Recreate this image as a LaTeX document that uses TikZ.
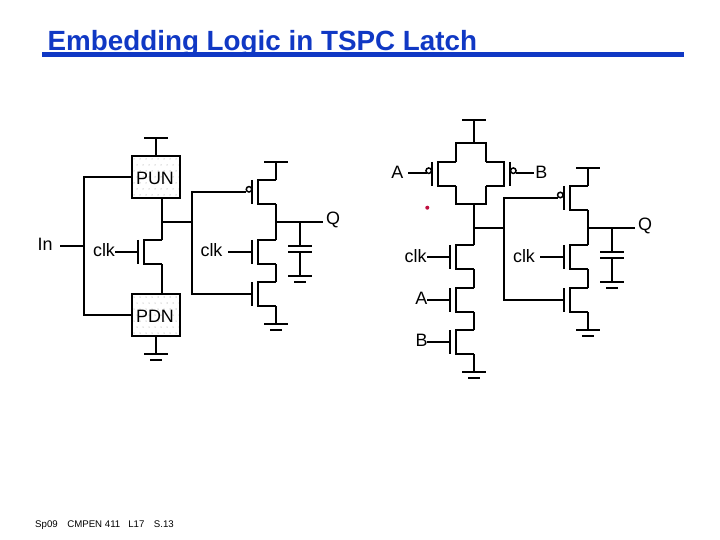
\documentclass[tikz,border=0pt]{standalone}
\usepackage{fontspec}
\setmainfont{Liberation Sans}
\definecolor{titleblue}{HTML}{1038C4}
\definecolor{dotred}{HTML}{C01040}
\tikzset{
  wire/.style={line width=2bp,line cap=butt,line join=miter},
  boxnode/.style={draw=black,line width=2bp,minimum width=48bp,minimum height=42bp,inner sep=0pt,font=\fontsize{18}{18}\selectfont},
  lab/.style={inner sep=0pt,font=\fontsize{18}{18}\selectfont,text=black},
  bubble/.style={circle,draw=black,line width=1.5pt,fill=white,minimum size=5.5pt,inner sep=0pt}
}
% name, channel x, top y, gate x, rail x
\newcommand{\mosdev}[5]{%
  \coordinate (#1-t) at (#5,#3);
  \coordinate (#1-b) at (#5,#3+24);
  \coordinate (#1-g) at (#4,#3+12);
  \draw[wire] (#4,#3) -- (#4,#3+24);
  \draw[wire] (#1-t) -- (#2,#3) -- (#2,#3+24) -- (#1-b);
}
\newcommand{\vddbar}[2]{\draw[wire] (#1-12,#2) -- (#1+12,#2);}
\newcommand{\gndbar}[2]{%
  \draw[wire] (#1-12,#2) -- (#1+12,#2);
  \draw[wire] (#1-6,#2+6) -- (#1+6,#2+6);}
\newcommand{\capdev}[3]{% x, plate y, bottom y
  \draw[wire] (#1-12,#2) -- (#1+12,#2);
  \draw[wire] (#1-12,#2+6) -- (#1+12,#2+6);
  \draw[wire] (#1,#2+6) -- (#1,#3);
  \gndbar{#1}{#3}}
\newcommand{\stipple}[2]{%
  \foreach \r in {0,...,6}{
    \pgfmathtruncatemacro{\odd}{mod(\r,2)}
    \foreach \c in {0,...,7}{
      \fill[black!60] ({#1+2+6*\c+3*\odd},{#2+3+6*\r}) circle (0.5pt);
    }}}
\begin{document}
\begin{tikzpicture}[x=1bp,y=-1bp]
\useasboundingbox (0,0) rectangle (720,540);
% title
\node[anchor=base west,inner sep=0pt,text=titleblue,font=\fontsize{27.9}{28}\selectfont\bfseries] (title) at (47.5,50.7) {Embedding Logic in TSPC Latch};
\fill[titleblue] (42,52) rectangle (684,57);
\node[anchor=base west,inner sep=0pt,font=\fontsize{9.7}{10}\selectfont] (foot) at (35,527.5) {Sp09\hspace{9.6pt}CMPEN 411\hspace{8pt}L17\hspace{9.6pt}S.13};

% ---------- left circuit
\stipple{132}{156}
\stipple{132}{294}
\node[boxnode] (pun) at (156,177) {};
\node[boxnode] (pdn) at (156,315) {};
\node[lab] (puntxt) at (155,178) {PUN};
\node[lab] (pdntxt) at (155,316) {PDN};
\coordinate (lvdd) at (156,138);
\coordinate (lgnd) at (156,354);
\vddbar{156}{138}
\gndbar{156}{354}
\draw[wire] (lvdd) -- (pun.north);
\draw[wire] (pdn.south) -- (lgnd);
\node[lab] (in) at (45,244) {In};
\coordinate (inj) at (84,246);
\coordinate (inl) at (60,246);
\draw[wire] (inl) -- (inj);
\draw[wire] (pun.west) -| (inj) |- (pdn.west);
\mosdev{lclk}{144}{240}{138}{162}
\coordinate (ln) at (162,222);
\draw[wire] (162,198) -- (lclk-t);
\draw[wire] (lclk-b) -- (162,294);
\node[lab] (lclktxt) at (104,250) {clk};
\draw[wire] (115,252) -- (lclk-g);
\coordinate (lv) at (192,222);
\draw[wire] (ln) -- (lv);
% left inverter
\mosdev{lp}{258}{180}{252}{276}
\mosdev{ln1}{258}{240}{252}{276}
\mosdev{ln2}{258}{282}{252}{276}
\draw[wire] (lp-t) -- (276,162);
\vddbar{276}{162}
\draw[wire] (lp-b) -- (ln1-t);
\draw[wire] (ln1-b) -- (ln2-t);
\draw[wire] (ln2-b) -- (276,324);
\gndbar{276}{324}
\draw[wire] (192,191) -- (192,295);
\draw[wire] (192,192) -- (246,192);
\draw[wire] (192,294) -- (ln2-g);
\node[bubble] (lb) at (249,189.3) {};
\node[lab] (lclk2) at (211.5,250) {clk};
\draw[wire] (228,252) -- (ln1-g);
\coordinate (lqn) at (323,222);
\draw[wire] (276,222) -- (lqn);
\node[lab] (lq) at (333,220) {Q};
\draw[wire] (300,222) -- (300,246);
\capdev{300}{246}{276}

% ---------- right circuit
\vddbar{474}{120}
\draw[wire] (474,120) -- (474,143);
\draw[wire] (455,143) -- (487,143);
\draw[wire] (455,204) -- (487,204);
\mosdev{ra}{438}{162}{432}{456}
\mosdev{rb}{504}{162}{510}{486}
\draw[wire] (456,143) -- (ra-t);
\draw[wire] (486,143) -- (rb-t);
\draw[wire] (ra-b) -- (456,204);
\draw[wire] (rb-b) -- (486,204);
\node[bubble] (rab) at (428.7,170.7) {};
\node[bubble] (rbb) at (513.3,170.7) {};
\coordinate (raj) at (426.5,173);
\coordinate (rbj) at (515.5,173);
\draw[wire] (408,173) -- (raj);
\draw[wire] (rbj) -- (534,173);
\node[lab] (ratxt) at (397.3,172) {A};
\node[lab] (rbtxt) at (541.3,172) {B};
\fill[dotred] (427.3,207.7) circle (2pt);
\draw[wire] (474,204) -- (474,245);
\mosdev{rc}{456}{245}{450}{474}
\mosdev{rd}{456}{288}{450}{474}
\mosdev{re}{456}{330}{450}{474}
\draw[wire] (rc-b) -- (rd-t);
\draw[wire] (rd-b) -- (re-t);
\draw[wire] (re-b) -- (474,372);
\gndbar{474}{372}
\node[lab] (rctxt) at (415.7,256) {clk};
\node[lab] (rdtxt) at (421.3,298) {A};
\node[lab] (retxt) at (421.7,340) {B};
\draw[wire] (427,257) -- (rc-g);
\draw[wire] (427,300) -- (rd-g);
\draw[wire] (427,342) -- (re-g);
\draw[wire] (474,228) -- (504,228);
\draw[wire] (504,197) -- (504,301);
% right inverter
\mosdev{rp}{570}{186}{564}{588}
\mosdev{rn1}{570}{245}{564}{588}
\mosdev{rn2}{570}{288}{564}{588}
\draw[wire] (rp-t) -- (588,168);
\vddbar{588}{168}
\draw[wire] (rp-b) -- (rn1-t);
\draw[wire] (rn1-b) -- (rn2-t);
\draw[wire] (rn2-b) -- (588,330);
\gndbar{588}{330}
\draw[wire] (504,198) -- (557.5,198);
\draw[wire] (504,300) -- (rn2-g);
\node[bubble] (rpb) at (560.3,195) {};
\node[lab] (rclk2) at (524,256) {clk};
\draw[wire] (540,257) -- (rn1-g);
\draw[wire] (588,228) -- (635,228);
\node[lab] (rq) at (645,226) {Q};
\draw[wire] (612,228) -- (612,252);
\capdev{612}{252}{282}
\end{tikzpicture}
\end{document}
